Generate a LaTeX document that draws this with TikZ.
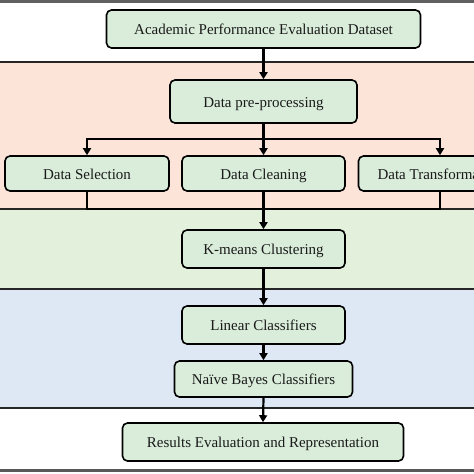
\documentclass[tikz,border=0pt]{standalone}
\usepackage{fontspec}
\setmainfont{Liberation Serif}
\usetikzlibrary{arrows.meta}
\definecolor{boxfill}{HTML}{D9EDDA}
\definecolor{pinkband}{HTML}{FCE4D8}
\definecolor{greenband}{HTML}{E3F0DB}
\definecolor{blueband}{HTML}{DEE8F5}
\definecolor{txt}{HTML}{1A1A1A}
\tikzset{
  stepbox/.style={draw=black, line width=1.6pt, fill=boxfill, rounded corners=5pt,
    inner sep=0pt, font=\fontsize{15}{17}\selectfont, text=txt,
    text height=11pt, text depth=0pt},
  flow/.style={line width=2.2pt, -{Triangle[width=8pt,length=7pt]}},
  plainline/.style={line width=2.2pt},
  sep/.style={line width=1.4pt, draw=black!85}
}
\begin{document}
\begin{tikzpicture}[x=1pt,y=-1pt]
\useasboundingbox (0,0) rectangle (474,474);
\clip (0,0) rectangle (474,474);
% bands
\fill[gray!75!black] (0,0) rectangle (474,3);
\fill[pinkband] (0,62) rectangle (474,209);
\fill[greenband] (0,209) rectangle (474,289);
\fill[blueband] (0,289) rectangle (474,408);
\draw[sep] (0,62) -- (474,62);
\draw[sep] (0,209) -- (474,209);
\draw[sep] (0,289) -- (474,289);
\draw[sep] (0,408) -- (474,408);
\draw[line width=2.5pt, draw=gray!70!black] (0,470.5) -- (474,470.5);
% nodes
\node[stepbox, minimum width=314pt, minimum height=38pt] (ds) at (263.5,29) {Academic Performance Evaluation Dataset};
\node[stepbox, minimum width=187pt, minimum height=43pt] (pre) at (263.5,101.5) {Data pre-processing};
\node[stepbox, minimum width=164pt, minimum height=35pt] (sel) at (87,173.5) {Data Selection};
\node[stepbox, minimum width=163pt, minimum height=35pt] (cln) at (263.5,173.5) {Data Cleaning};
\node[stepbox, minimum width=163pt, minimum height=35pt] (trn) at (440,173.5) {Data Transformation};
\node[stepbox, minimum width=163pt, minimum height=38pt] (km) at (263.5,249) {K-means Clustering};
\node[stepbox, minimum width=163pt, minimum height=38pt] (lin) at (263.5,325) {Linear Classifiers};
\node[stepbox, minimum width=178pt, minimum height=36pt] (nb) at (263.5,379) {Naïve Bayes Classifiers};
\node[stepbox, minimum width=281pt, minimum height=38pt] (res) at (263,442) {Results Evaluation and Representation};
\coordinate (br) at (263.5,139);
\coordinate (mg) at (263.5,209);
% connectors
\draw[flow] (ds.south) -- (pre.north);
\draw[plainline] (pre.south) -- (br);
\draw[flow] (br) -- (cln.north);
\draw[flow] (br) -| (sel.north);
\draw[flow] (br) -| (trn.north);
\draw[plainline] (sel.south) |- (mg);
\draw[plainline] (trn.south) |- (mg);
\draw[flow] (cln.south) -- (km.north);
\draw[flow] (km.south) -- (lin.north);
\draw[flow] (lin.south) -- (nb.north);
\draw[flow] (nb.south) -- (res.north);
\end{tikzpicture}
\end{document}
